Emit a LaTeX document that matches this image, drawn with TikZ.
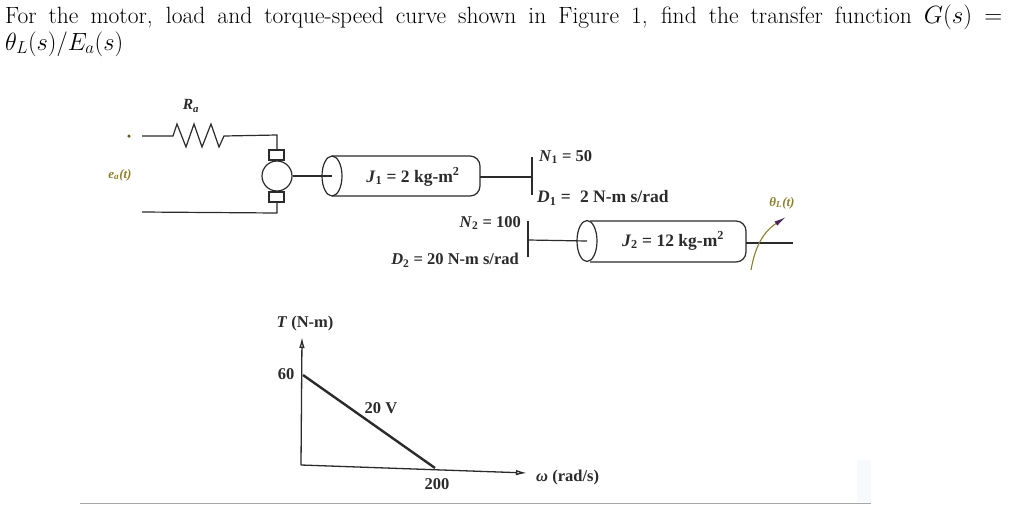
\documentclass[tikz,border=0pt]{standalone}
\usepackage{fontspec}
\usetikzlibrary{arrows.meta,shapes.geometric}
\newfontfamily\figfont{Liberation Serif}
\definecolor{inkc}{HTML}{2B2B2B}
\definecolor{olivec}{HTML}{8F7F2A}
\definecolor{headc}{HTML}{4A2A55}
\definecolor{patchc}{HTML}{F7F9FD}
\tikzset{
  wire/.style={draw=inkc,line width=1.2pt},
  lab/.style={inner sep=0pt,text=inkc,font=\figfont\bfseries\fontsize{16.5}{18}\selectfont},
  labw/.style={inner sep=0pt,text=inkc,font=\figfont\bfseries\fontsize{17.5}{19}\selectfont},
  oliv/.style={inner sep=0pt,text=olivec,font=\figfont\bfseries\itshape\fontsize{13}{15}\selectfont},
  top/.style={inner sep=0pt,anchor=base west,text=black,font=\fontsize{23.5}{27}\selectfont},
  brush/.style={draw=inkc,line width=1.2pt,fill=white,minimum width=15pt,minimum height=10pt,inner sep=0pt},
}
\begin{document}
\begin{tikzpicture}[x=1pt,y=-1pt]
\useasboundingbox (0,0) rectangle (1009,509);
\fill[white] (0,0) rectangle (1009,509);
% statement
\node[top] (l1) at (5,23) {\makebox[997pt][s]{For the motor, load and torque-speed curve shown in Figure 1, find the transfer function $G(s)$ $=$}};
\node[top] (l2) at (5,50) {\scalebox{0.98}[1]{$\theta_L(s)/E_a(s)$}};
% circuit
\node[circle,fill=olivec!70!black,inner sep=0pt,minimum size=3.5pt] (dot) at (129,136) {};
\coordinate (a) at (142,136);
\coordinate (r1) at (173,136);
\coordinate (r2) at (224,136);
\coordinate (c1) at (277,135);
\coordinate (b) at (142,212);
\coordinate (c2) at (277,213);
\draw[wire] (a) -- (r1) -- (177,124) -- (186,147) -- (194,124) -- (202,147) -- (211,124) -- (219,147) -- (r2) -- (c1) -- (277,150);
\draw[wire] (b) -- (c2) -- (277,202);
\node[brush] (bt) at (276.5,155) {};
\node[brush] (bb) at (276.5,197) {};
\node[circle,draw=inkc,line width=1.2pt,fill=white,minimum size=30pt,inner sep=0pt] (motor) at (277,176) {};
% J1
\draw[wire,rounded corners=10pt] (332,156) -- (480,156) -- (480,196) -- (332,196);
\node[ellipse,draw=inkc,line width=1.2pt,minimum width=20pt,minimum height=40pt,inner sep=0pt] (e1) at (332,176) {};
\draw[wire] (motor.east) -- (e1.center);
% gears
\coordinate (g1t) at (532,157); \coordinate (g1b) at (532,195); \coordinate (g1m) at (532,177);
\coordinate (j1r) at (480,177);
\draw[wire] (g1t) -- (g1b);
\draw[wire] (j1r) -- (g1m);
\coordinate (g2t) at (528,221); \coordinate (g2b) at (528,257); \coordinate (g2m) at (528,240);
\draw[wire] (g2t) -- (g2b);
% J2
\draw[wire,rounded corners=10pt] (590,221) -- (746,221) -- (746,262) -- (590,262);
\node[ellipse,draw=inkc,line width=1.2pt,minimum width=20pt,minimum height=41pt,inner sep=0pt] (e2) at (587,241) {};
\draw[wire] (g2m) -- (e2.center);
\coordinate (j2r) at (746,243); \coordinate (o) at (793,243);
\draw[wire] (j2r) -- (o);
\coordinate (th1) at (751,270); \coordinate (th2) at (786,217);
\draw[draw=olivec,line width=1.1pt,-{Latex[length=12pt,width=5pt,color=headc]}] (th1) .. controls (755,247) and (763,232) .. (th2);
% labels
\node[lab,font=\figfont\bfseries\itshape\fontsize{15.5}{17}\selectfont] (ra) at (191,106) {R\textsubscript{a}};
\node[oliv] (ea) at (120,175) {e\textsubscript{a}(t)};
\node[labw] (j1) at (413,177) {\textit{J}\textsubscript{1} = 2 kg-m\textsuperscript{2}};
\node[lab,anchor=west] (n1) at (539,157) {\textit{N}\textsubscript{1} = 50};
\node[labw,anchor=west] (d1) at (537,198) {\textit{D}\textsubscript{1} =\; 2 N-m s/rad};
\node[oliv] (thl) at (782,203) {θ\textsubscript{L}(t)};
\node[lab,anchor=east] (n2) at (521,223) {\textit{N}\textsubscript{2} = 100};
\node[lab,anchor=east] (d2) at (519,260) {\textit{D}\textsubscript{2} = 20 N-m s/rad};
\node[labw] (j2) at (673,241) {\textit{J}\textsubscript{2} = 12 kg-m\textsuperscript{2}};
% curve
\coordinate (o0) at (301,465);
\coordinate (yt) at (302,337);
\coordinate (xr) at (527,473);
\coordinate (p60) at (303,375);
\coordinate (p200) at (435,468);
\draw[wire,line width=1.3pt,-{Latex[length=11pt,width=5.5pt,open]}] (o0) -- (yt);
\draw[wire,line width=1.3pt,-{Latex[length=11pt,width=5.5pt,open]}] (o0) -- (xr);
\draw[draw=inkc,line width=2.4pt] (p60) -- (p200);
\node[lab] (tn) at (305,324) {\textit{T} (N-m)};
\node[lab] (l60) at (286,374) {60};
\node[lab] (l20) at (381,408) {20 V};
\node[lab] (l200) at (437,484) {200};
\node[lab,anchor=west] (om) at (536,478) {\textit{ω} (rad/s)};
% scan edge
\fill[patchc] (857,460) rectangle (871,502);
\coordinate (s1) at (80,503); \coordinate (s2) at (871,503);
\draw[draw=black!35,line width=1pt] (s1) -- (s2);
\end{tikzpicture}
\end{document}
